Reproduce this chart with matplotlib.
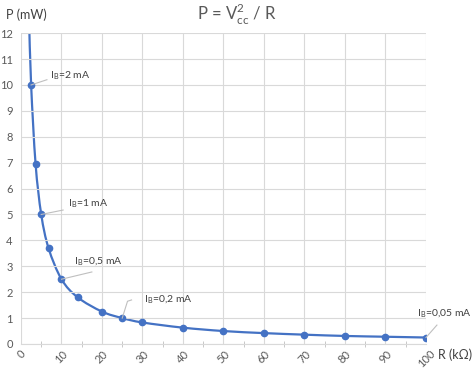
import numpy as np
import matplotlib
matplotlib.use("Agg")
import matplotlib.pyplot as plt
from matplotlib.path import Path
from matplotlib.patches import PathPatch

plt.rcParams['font.family'] = ['Lato', 'DejaVu Sans']
plt.rcParams['mathtext.fontset'] = 'custom'
plt.rcParams['mathtext.rm'] = 'Lato'

# data (R in kOhm, P in mW)
r_kohm = [2, 2.5, 3.6, 5, 6.8, 10, 14, 20, 25, 30, 40, 50, 60, 70, 80, 90, 100]
p_mw = [12.5, 10, 6.95, 5, 3.7, 2.5, 1.8, 1.25, 1.0, 0.83, 0.63, 0.5, 0.42, 0.36, 0.31, 0.28, 0.25]

# labels: text, point, text position, leader end
notes = [
    (r'I$_\mathregular{B}$=2 mA', (2.5, 10), (7.2, 10.35), [(6.4, 10.2)]),
    (r'I$_\mathregular{B}$=1 mA', (5, 5), (11.6, 5.4), [(10.4, 5.17)]),
    (r'I$_\mathregular{B}$=0,5 mA', (10, 2.5), (13.1, 3.17), [(17.5, 2.78)]),
    (r'I$_\mathregular{B}$=0,2 mA', (25, 1.0), (30.4, 1.7), [(26.3, 1.65), (27.3, 1.7)]),
    (r'I$_\mathregular{B}$=0,05 mA', (100, 0.25), (97.8, 1.16), [(102.7, 0.73)]),
]

blue = '#4472C4'
grid_c = '#d9d9d9'
txt_c = '#595959'

fig = plt.figure(figsize=(4.74, 3.71), dpi=100)
ax = fig.add_axes([0.0443, 0.0728, 0.8544, 0.838])

# smoothed line like Excel (Catmull-Rom segments drawn as cubic Bezier)
pts = np.column_stack([r_kohm, p_mw])
verts = [pts[0]]
codes = [Path.MOVETO]
n = len(pts)
for i in range(n - 1):
    p0 = pts[max(i - 1, 0)]
    p1 = pts[i]
    p2 = pts[i + 1]
    p3 = pts[min(i + 2, n - 1)]
    c1 = p1 + (p2 - p0) / 6
    c2 = p2 - (p3 - p1) / 6
    verts += [c1, c2, p2]
    codes += [Path.CURVE4] * 3
ax.add_patch(PathPatch(Path(verts, codes), facecolor='none', edgecolor=blue, lw=1.6))
ax.plot(r_kohm, p_mw, 'o', color=blue, ms=4.5)

ax.set_xlim(0, 100)
ax.set_ylim(0, 12)
ax.set_xticks(range(0, 101, 10))
ax.set_xticks(range(5, 100, 10), minor=True)
ax.set_yticks(range(0, 13))
ax.grid(True, color=grid_c, lw=0.8)
for s in ['top', 'right', 'left']:
    ax.spines[s].set_visible(False)
ax.spines['bottom'].set_color(grid_c)
ax.tick_params(axis='y', length=0, labelsize=8, colors=txt_c, pad=6)
ax.tick_params(axis='x', which='major', length=0, labelsize=8, colors=txt_c,
               labelrotation=45, pad=3)
ax.tick_params(axis='x', which='minor', length=4, direction='inout', color='#bfbfbf')
for lab in ax.get_xticklabels():
    lab.set_ha('center')

for text, pt, tpos, leader in notes:
    line = [pt] + leader
    ax.plot([q[0] for q in line], [q[1] for q in line], color='#bfbfbf', lw=0.8,
            clip_on=False)
    ax.text(tpos[0], tpos[1], text, fontsize=7.5, color='#404040', va='center',
            ha='left', clip_on=False)

fig.text(0.5, 0.96, r'P = V$_\mathregular{cc}^\mathregular{2}$ / R', ha='center',
         va='center', fontsize=12, color=txt_c)
fig.text(0.012, 0.96, 'P (mW)', ha='left', va='center', fontsize=9, color='#404040')
fig.text(0.925, 0.043, u'R (k\u03a9)', ha='left', va='center', fontsize=9, color='#404040')

fig.savefig('out.png', dpi=100)
